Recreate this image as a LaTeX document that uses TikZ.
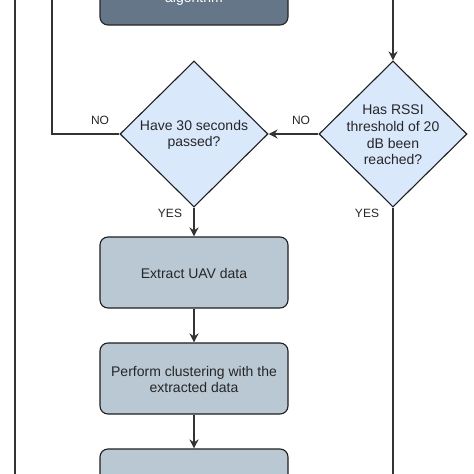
\documentclass[tikz,border=0pt]{standalone}
\usepackage{fontspec}
\setmainfont{Liberation Sans}
\usetikzlibrary{shapes.geometric,arrows.meta}
\definecolor{diafill}{HTML}{DAE8FC}
\definecolor{boxfill}{HTML}{BAC8D3}
\definecolor{topfill}{HTML}{647687}
\definecolor{edge}{HTML}{1E1E1E}
\definecolor{linec}{HTML}{333333}
\tikzset{
  dia/.style={diamond, draw=edge, fill=diafill, line width=1.1pt, minimum width=148pt, minimum height=146pt, inner sep=0pt},
  txt/.style={align=center, font=\fontsize{14}{16.6}\selectfont, text=black!85, inner sep=0pt},
  procbox/.style={rectangle, rounded corners=8pt, draw=edge, fill=boxfill, line width=1.1pt, minimum width=188pt, minimum height=71pt, inner sep=0pt},
  lab/.style={font=\fontsize{12}{14}\selectfont, text=black!85, inner sep=0pt},
  conn/.style={draw=linec, line width=1.2pt},
  arr/.style={conn, -{Stealth[length=9pt,width=9pt]}}
}
\begin{document}
\begin{tikzpicture}[x=1pt,y=-1pt]
\useasboundingbox (0,0) rectangle (474,474);
\clip (0,0) rectangle (474,474);
\fill[white] (0,0) rectangle (474,474);
% top box (cut)
\node[procbox, fill=topfill, draw=black!85, minimum height=90pt] (top) at (194,-20) {};
\node[txt, text=white, anchor=base] (toptxt) at (194,2) {algorithm};
% diamonds
\node[dia] (d1) at (194,134) {};
\node[txt] (d1t) at (194,135) {Have 30 seconds\\passed?};
\node[dia] (d2) at (393,134) {};
\node[txt] (d2t) at (393,135) {Has RSSI\\threshold of 20\\dB been\\reached?};
% boxes
\node[procbox] (ext) at (194,272.5) {};
\node[txt] (extt) at (194,273) {Extract UAV data};
\node[procbox] (perf) at (194,378.5) {};
\node[txt] (perft) at (194,379.5) {Perform clustering with the\\extracted data};
\node[procbox] (next) at (194,484.5) {};
% coordinates
\coordinate (ltop) at (15,-5);
\coordinate (lbot) at (15,480);
\coordinate (l2top) at (52,-5);
\coordinate (l2corner) at (52,134);
\coordinate (rtop) at (393,-5);
\coordinate (rbot) at (393,480);
% connectors
\draw[conn] (ltop) -- (lbot);
\draw[conn] (d1.west) -- (l2corner) -- (l2top);
\draw[arr] (rtop) -- (d2.north);
\draw[arr] (d2.west) -- (d1.east);
\draw[conn] (d2.south) -- (rbot);
\draw[arr] (d1.south) -- (ext.north);
\draw[arr] (ext.south) -- (perf.north);
\draw[arr] (perf.south) -- (next.north);
% labels
\node[lab] (no1) at (100,120) {NO};
\node[lab] (no2) at (301,120) {NO};
\node[lab] (yes1) at (170,213) {YES};
\node[lab] (yes2) at (367,213) {YES};
\end{tikzpicture}
\end{document}
